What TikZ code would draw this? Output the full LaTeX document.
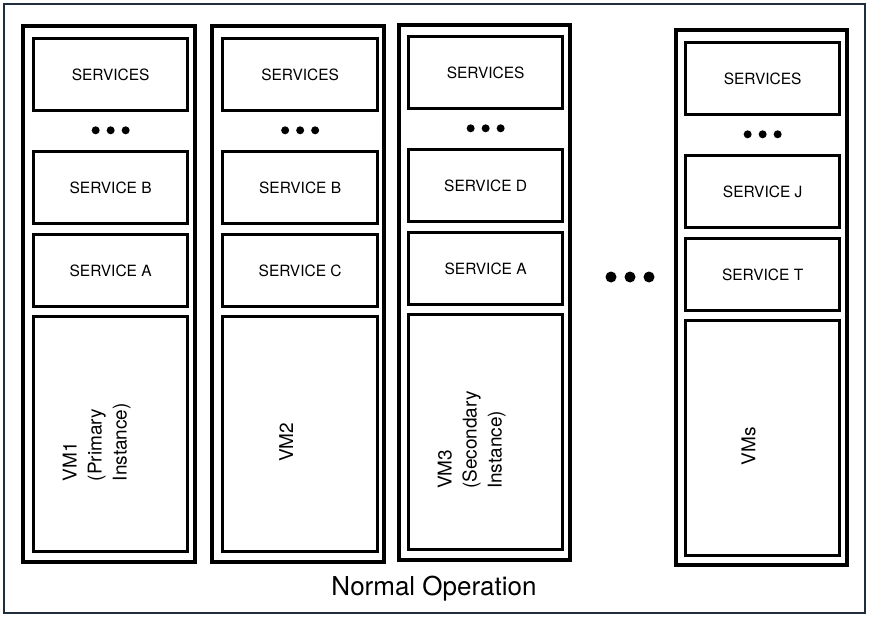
\documentclass[tikz,border=0pt]{standalone}
\usepackage{fontspec}
\setmainfont{TeX Gyre Heros}
\definecolor{framecol}{HTML}{1F2D3D}
\tikzset{
  vmcol/.style={draw, line width=3.3pt},
  svcbox/.style={draw, line width=3.3pt, font=\fontsize{15.5}{18}\selectfont},
  dot/.style={fill, circle, inner sep=0pt, minimum size=#1},
}
\begin{document}
\begin{tikzpicture}[x=1pt,y=-1pt]
    % Frame
    \draw[framecol, line width=1.5pt] (4,4) rectangle (865,613);
    \useasboundingbox (0,0) rectangle (869,618);

    % Columns: left, right, top, bottom, box left, box right, y shift, label 2, label 3, vm text
    \foreach \n/\l/\r/\t/\b/\bl/\br/\s/\ltwo/\lthree/\vm in {
        1/23/195/26/562/32/186/0/SERVICE B/SERVICE A/{VM1\\(Primary\\Instance)},
        2/212/384/26/562/221/376/0/SERVICE B/SERVICE C/{VM2},
        3/399/570/25/560/407/561/-2/SERVICE D/SERVICE A/{VM3\\(Secondary\\Instance)},
        4/676/847/30/565/684/838/4/SERVICE J/SERVICE T/{VMs}} {
        % outer column
        \draw[vmcol] (\l,\t) rectangle (\r,\b);
        % stacked boxes
        \node[svcbox, minimum width={\br-\bl}, minimum height=72, anchor=north west] (s\n) at (\bl,37+\s) {SERVICES};
        \node[svcbox, minimum width={\br-\bl}, minimum height=72, anchor=north west] (b\n) at (\bl,150+\s) {\ltwo};
        \node[svcbox, minimum width={\br-\bl}, minimum height=72, anchor=north west] (a\n) at (\bl,233+\s) {\lthree};
        \node[svcbox, minimum width={\br-\bl}, minimum height={235}, anchor=north west] (v\n) at (\bl,315+\s) {};
        \node[rotate=90, align=left, font=\fontsize{19}{25}\selectfont] at ([xshift=-14,yshift=-8]v\n.center) {\vm};
        % small dots
        \foreach \d in {-15,0,15}
            \node[dot=8] at ([xshift=\d,yshift=-18]s\n.south) {};
    }

    % Dots between columns
    \foreach \d in {-19,0,19}
        \node[dot=11] at (630+\d,277) {};

    % Caption
    \node[font=\fontsize{26}{30}\selectfont] (cap) at (434,589) {Normal Operation};
\end{tikzpicture}
\end{document}
